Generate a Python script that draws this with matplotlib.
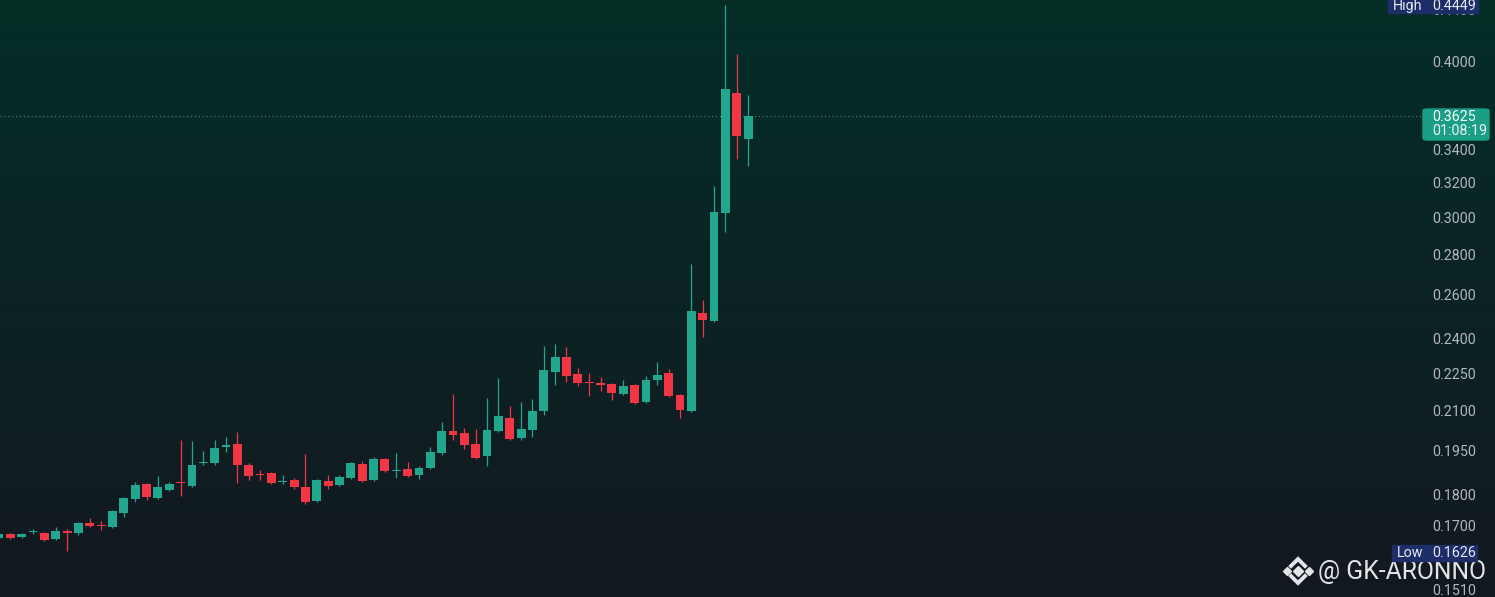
import numpy as np
import matplotlib.pyplot as plt
from matplotlib.patches import FancyBboxPatch, Rectangle
from matplotlib.transforms import blended_transform_factory

# ---------------------------------------------------------------------------
# Dados (OHLC)
# ---------------------------------------------------------------------------
opens = [0.1665, 0.1677, 0.1668, 0.1684, 0.1681, 0.1662, 0.1687, 0.1681, 0.1712, 0.1706,
         0.1699, 0.1744, 0.1789, 0.1840, 0.1793, 0.1819, 0.1846, 0.1833, 0.1912, 0.1912,
         0.1970, 0.1981, 0.1905, 0.1874, 0.1877, 0.1846, 0.1853, 0.1829, 0.1783, 0.1850,
         0.1836, 0.1860, 0.1909, 0.1853, 0.1926, 0.1884, 0.1891, 0.1870, 0.1895, 0.1948,
         0.2029, 0.2021, 0.1981, 0.1937, 0.2029, 0.2078, 0.2002, 0.2032, 0.2105, 0.2262,
         0.2325, 0.2254, 0.2221, 0.2217, 0.2212, 0.2172, 0.2208, 0.2140, 0.2229, 0.2258,
         0.2168, 0.2105, 0.2522, 0.2485, 0.3033, 0.3785, 0.3477]
highs = [0.1681, 0.1681, 0.1681, 0.1693, 0.1684, 0.1699, 0.1693, 0.1715, 0.1728, 0.1718,
         0.1753, 0.1796, 0.1846, 0.1843, 0.1867, 0.1846, 0.1995, 0.1992, 0.1955, 0.1995,
         0.2006, 0.2025, 0.1912, 0.1888, 0.1881, 0.1870, 0.1860, 0.1944, 0.1857, 0.1870,
         0.1870, 0.1916, 0.1919, 0.1934, 0.1930, 0.1948, 0.1916, 0.1902, 0.1970, 0.2063,
         0.2172, 0.2040, 0.2036, 0.2156, 0.2237, 0.2124, 0.2140, 0.2152, 0.2373, 0.2382,
         0.2369, 0.2279, 0.2258, 0.2241, 0.2217, 0.2229, 0.2212, 0.2245, 0.2304, 0.2274,
         0.2172, 0.2761, 0.2583, 0.3188, 0.4449, 0.4067, 0.3771]
lows = [0.1662, 0.1662, 0.1665, 0.1677, 0.1656, 0.1659, 0.1626, 0.1674, 0.1699, 0.1690,
        0.1696, 0.1731, 0.1780, 0.1786, 0.1789, 0.1816, 0.1799, 0.1829, 0.1905, 0.1905,
        0.1952, 0.1843, 0.1853, 0.1853, 0.1840, 0.1840, 0.1823, 0.1773, 0.1780, 0.1823,
        0.1833, 0.1857, 0.1846, 0.1850, 0.1881, 0.1860, 0.1863, 0.1857, 0.1891, 0.1941,
        0.1995, 0.1962, 0.1926, 0.1902, 0.2025, 0.1995, 0.1995, 0.2006, 0.2089, 0.2208,
        0.2221, 0.2204, 0.2164, 0.2184, 0.2148, 0.2168, 0.2132, 0.2136, 0.2208, 0.2160,
        0.2078, 0.2101, 0.2413, 0.2481, 0.2929, 0.3351, 0.3308]
closes = [0.1677, 0.1665, 0.1677, 0.1687, 0.1659, 0.1687, 0.1681, 0.1712, 0.1702, 0.1702,
          0.1750, 0.1793, 0.1836, 0.1796, 0.1829, 0.1840, 0.1843, 0.1905, 0.1916, 0.1966,
          0.1977, 0.1905, 0.1867, 0.1870, 0.1843, 0.1850, 0.1829, 0.1780, 0.1853, 0.1833,
          0.1863, 0.1912, 0.1850, 0.1926, 0.1884, 0.1888, 0.1867, 0.1895, 0.1952, 0.2029,
          0.2014, 0.1977, 0.1930, 0.2032, 0.2086, 0.1999, 0.2036, 0.2105, 0.2270, 0.2325,
          0.2245, 0.2217, 0.2217, 0.2208, 0.2176, 0.2204, 0.2136, 0.2229, 0.2249, 0.2164,
          0.2109, 0.2531, 0.2490, 0.3039, 0.3813, 0.3496, 0.3625]

price_ticks = [0.4400, 0.4000, 0.3400, 0.3200, 0.3000, 0.2800, 0.2600,
               0.2400, 0.2250, 0.2100, 0.1950, 0.1800, 0.1700, 0.1510]
high_value = 0.4449
low_value = 0.1626
countdown = '01:08:19'
watermark = '@ GK-ARONNO'

# ---------------------------------------------------------------------------
# Estilo
# ---------------------------------------------------------------------------
W, H = 1495, 597
UP = '#22a68e'
DOWN = '#f23645'
AXIS_TXT = '#b2b8bd'
LABEL_BLUE = '#1d2d68'
BG_TOP = np.array([4, 46, 39]) / 255
BG_BOT = np.array([19, 24, 32]) / 255
FS = 10.3


def fx(x):
    return x / W


def fy(y):
    return 1 - y / H


fig = plt.figure(figsize=(W / 100, H / 100), dpi=100)
ax = fig.add_axes([0, 0, 1, 1])
ax.set_yscale('log')
ax.set_xlim(0.088, 131.81)
ax.set_ylim(0.14934, 0.44930)
ax.axis('off')

# fundo em gradiente
t = np.linspace(0, 1, 256)[:, None]
grad = BG_TOP[None, :] * (1 - t) + BG_BOT[None, :] * t
grad = np.repeat(grad[:, None, :], 2, axis=1)
ax.imshow(grad, extent=[0, 1, 0, 1], transform=ax.transAxes,
          aspect='auto', zorder=0, interpolation='bicubic')

# velas
x = np.arange(len(opens))
o = np.array(opens)
c = np.array(closes)
colors = np.where(c >= o, UP, DOWN)
ax.vlines(x, lows, highs, colors=colors, linewidth=0.9, zorder=2)
body_h = np.maximum(np.abs(c - o), 0.00035)
ax.bar(x, body_h, bottom=np.minimum(o, c), width=0.78, color=colors,
       linewidth=0, zorder=3)

# linha do preço atual
ax.axhline(closes[-1], xmin=0, xmax=1423 / W, color='#4d8f82',
           linewidth=0.8, linestyle=(0, (1, 2.5)), zorder=1)

# escala de preços (0.4400 fica parcialmente sob o rótulo High, como no original)
tr = blended_transform_factory(ax.transAxes, ax.transData)
for p in price_ticks:
    ax.text(1432 / W, p, f'{p:.4f}', transform=tr, ha='left', va='center',
            color=AXIS_TXT, fontsize=FS, family='Roboto', zorder=4)

# rótulo High
fig.patches.append(Rectangle((fx(1388), fy(13)), fx(90), 20 / H,
                             transform=fig.transFigure, color=LABEL_BLUE,
                             zorder=5))
fig.text(fx(1393), fy(6), 'High', color='#e6e9f0', fontsize=FS,
         family='Roboto', va='center', ha='left', zorder=6)
fig.text(fx(1432), fy(6), f'{high_value:.4f}', color='#e6e9f0',
         fontsize=FS, family='Roboto', va='center', ha='left', zorder=6)

# rótulo Low
fig.patches.append(Rectangle((fx(1392), fy(561)), fx(85), 16 / H,
                             transform=fig.transFigure, color=LABEL_BLUE,
                             zorder=5))
fig.text(fx(1397), fy(553), 'Low', color='#e6e9f0', fontsize=FS,
         family='Roboto', va='center', ha='left', zorder=6)
fig.text(fx(1432), fy(553), f'{low_value:.4f}', color='#e6e9f0',
         fontsize=FS, family='Roboto', va='center', ha='left', zorder=6)

# rótulo do preço atual
fig.patches.append(FancyBboxPatch((fx(1423), fy(140)), fx(66), 31 / H,
                                  boxstyle='round,pad=0,rounding_size=0.003',
                                  transform=fig.transFigure, color='#1a9e86',
                                  zorder=5))
fig.text(fx(1432), fy(117), f'{closes[-1]:.4f}', color='white',
         fontsize=FS, family='Roboto', va='center', ha='left', zorder=6)
fig.text(fx(1432), fy(131), countdown, color='#eaf5f2',
         fontsize=FS, family='Roboto', va='center', ha='left', zorder=6)

# marca d'água (logo + texto)
wm_col = '#e2e4e6'
cx, cy = 1298, 571
ax_fig = fig.add_axes([0, 0, 1, 1], facecolor='none')
ax_fig.set_xlim(0, W)
ax_fig.set_ylim(H, 0)
ax_fig.axis('off')
ax_fig.plot([cx], [cy], marker='D', markersize=5.5, color=wm_col, lw=0)
ax_fig.plot([cx - 11, cx + 11], [cy, cy], marker='D', markersize=4,
            color=wm_col, lw=0)
ax_fig.plot([cx - 7, cx, cx + 7], [cy - 5, cy - 12, cy - 5],
            color=wm_col, lw=2.8, solid_joinstyle='miter')
ax_fig.plot([cx - 7, cx, cx + 7], [cy + 5, cy + 12, cy + 5],
            color=wm_col, lw=2.8, solid_joinstyle='miter')
ax_fig.text(1318, 572, watermark, color=wm_col, fontsize=17.8,
            family='Roboto', va='center', ha='left')

fig.savefig('out.png', dpi=100)
